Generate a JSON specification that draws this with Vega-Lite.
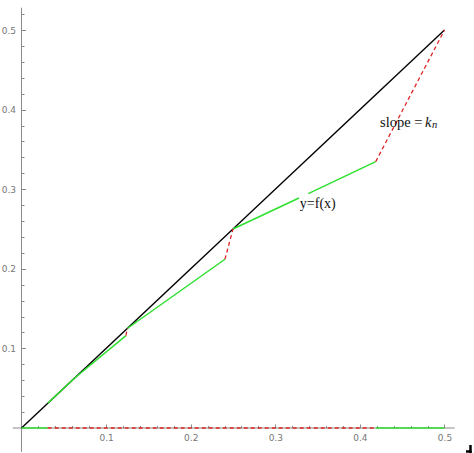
{
  "$schema": "https://vega.github.io/schema/vega-lite/v6.json",
  "width": 474,
  "height": 453,
  "autosize": {"type": "none"},
  "padding": 0,
  "background": "white",
  "config": {"view": {"stroke": null}},
  "resolve": {"axis": {"x": "independent", "y": "independent"}},
  "datasets": {
    "axes": [
      {"x": -0.0104, "y": 0, "x2": 0.512, "y2": 0},
      {"x": 0, "y": -0.03, "x2": 0, "y2": 0.528}
    ],
    "diagonal": [{"x": 0, "y": 0, "x2": 0.5, "y2": 0.5}],
    "green": [
      {"x": 0.031, "y": 0.031, "x2": 0.0625, "y2": 0.0625},
      {"x": 0.0625, "y": 0.0625, "x2": 0.1235, "y2": 0.116},
      {"x": 0.125, "y": 0.125, "x2": 0.2405, "y2": 0.212},
      {"x": 0.25, "y": 0.25, "x2": 0.328, "y2": 0.289},
      {"x": 0.339, "y": 0.2945, "x2": 0.4187, "y2": 0.3346},
      {"x": 0, "y": 0, "x2": 0.031, "y2": 0},
      {"x": 0.4187, "y": 0, "x2": 0.5, "y2": 0}
    ],
    "red": [
      {"x": 0.1235, "y": 0.116, "x2": 0.125, "y2": 0.125},
      {"x": 0.2405, "y": 0.212, "x2": 0.25, "y2": 0.25},
      {"x": 0.4187, "y": 0.3346, "x2": 0.5, "y2": 0.5},
      {"x": 0.031, "y": 0, "x2": 0.4187, "y2": 0}
    ],
    "corner": [
      {"x": 0.5307, "y": -0.0214, "x2": 0.5307, "y2": -0.0314},
      {"x": 0.5254, "y": -0.0295, "x2": 0.532, "y2": -0.0295}
    ],
    "plain": [
      {"text": "y=f(x)", "x": 0.329, "y": 0.276, "size": 14},
      {"text": "slope =", "x": 0.4238, "y": 0.3785, "size": 14.5}
    ],
    "italic": [
      {"text": "k", "x": 0.477, "y": 0.3785, "size": 14.5},
      {"text": "n", "x": 0.4852, "y": 0.3765, "size": 10.5}
    ]
  },
  "layer": [
    {
      "data": {"name": "axes"},
      "mark": {"type": "rule", "color": "#8a8a8a", "strokeWidth": 1},
      "encoding": {
        "x": {
          "field": "x",
          "type": "quantitative",
          "scale": {"domain": [-0.02541, 0.53487], "nice": false, "zero": false},
          "axis": {
            "orient": "bottom",
            "offset": -25,
            "title": null,
            "domain": false,
            "grid": false,
            "values": [0.1, 0.2, 0.3, 0.4, 0.5],
            "format": ".1f",
            "labelFont": "DejaVu Sans",
            "labelFontSize": 9,
            "labelColor": "#777777",
            "labelPadding": 9,
            "labelFlush": false,
            "labelOverlap": false,
            "tickColor": "#8a8a8a",
            "tickWidth": 1,
            "tickSize": -4
          }
        },
        "x2": {"field": "x2"},
        "y": {
          "field": "y",
          "type": "quantitative",
          "scale": {"domain": [-0.03141, 0.53769], "nice": false, "zero": false},
          "axis": {
            "orient": "left",
            "offset": -21.5,
            "title": null,
            "domain": false,
            "grid": false,
            "values": [0.1, 0.2, 0.3, 0.4, 0.5],
            "format": ".1f",
            "labelFont": "DejaVu Sans",
            "labelFontSize": 9,
            "labelColor": "#777777",
            "labelPadding": 10,
            "labelFlush": false,
            "labelOverlap": false,
            "tickColor": "#8a8a8a",
            "tickWidth": 1,
            "tickSize": -4
          }
        },
        "y2": {"field": "y2"}
      }
    },
    {
      "data": {"name": "diagonal"},
      "mark": {"type": "rule", "color": "black", "strokeWidth": 1.4},
      "encoding": {
        "x": {
          "field": "x",
          "type": "quantitative",
          "axis": {
            "orient": "top",
            "offset": -428,
            "title": null,
            "domain": false,
            "grid": false,
            "labels": false,
            "values": [0.02, 0.04, 0.06, 0.08, 0.12, 0.14, 0.16, 0.18, 0.22, 0.24, 0.26, 0.28, 0.32, 0.34, 0.36, 0.38, 0.42, 0.44, 0.46, 0.48],
            "tickColor": "#8a8a8a",
            "tickWidth": 1,
            "tickSize": 2.5
          }
        },
        "x2": {"field": "x2"},
        "y": {
          "field": "y",
          "type": "quantitative",
          "axis": {
            "orient": "right",
            "offset": -452.5,
            "title": null,
            "domain": false,
            "grid": false,
            "labels": false,
            "values": [0.02, 0.04, 0.06, 0.08, 0.12, 0.14, 0.16, 0.18, 0.22, 0.24, 0.26, 0.28, 0.32, 0.34, 0.36, 0.38, 0.42, 0.44, 0.46, 0.48, 0.52],
            "tickColor": "#8a8a8a",
            "tickWidth": 1,
            "tickSize": 2.5
          }
        },
        "y2": {"field": "y2"}
      }
    },
    {
      "data": {"name": "green"},
      "mark": {"type": "rule", "color": "#2ee02e", "strokeWidth": 1.5},
      "encoding": {
        "x": {"field": "x", "type": "quantitative", "axis": null},
        "x2": {"field": "x2"},
        "y": {"field": "y", "type": "quantitative", "axis": null},
        "y2": {"field": "y2"}
      }
    },
    {
      "data": {"name": "red"},
      "mark": {"type": "rule", "color": "#e02424", "strokeWidth": 1.3, "strokeDash": [4, 3]},
      "encoding": {
        "x": {"field": "x", "type": "quantitative", "axis": null},
        "x2": {"field": "x2"},
        "y": {"field": "y", "type": "quantitative", "axis": null},
        "y2": {"field": "y2"}
      }
    },
    {
      "data": {"name": "corner"},
      "mark": {"type": "rule", "color": "black", "strokeWidth": 2.5, "clip": false},
      "encoding": {
        "x": {"field": "x", "type": "quantitative", "axis": null},
        "x2": {"field": "x2"},
        "y": {"field": "y", "type": "quantitative", "axis": null},
        "y2": {"field": "y2"}
      }
    },
    {
      "data": {"name": "plain"},
      "mark": {"type": "text", "font": "Liberation Serif", "align": "left", "baseline": "alphabetic", "color": "#111111"},
      "encoding": {
        "x": {"field": "x", "type": "quantitative", "axis": null},
        "y": {"field": "y", "type": "quantitative", "axis": null},
        "text": {"field": "text"},
        "size": {"field": "size", "type": "quantitative", "scale": null}
      }
    },
    {
      "data": {"name": "italic"},
      "mark": {"type": "text", "font": "Liberation Serif", "fontStyle": "italic", "align": "left", "baseline": "alphabetic", "color": "#111111"},
      "encoding": {
        "x": {"field": "x", "type": "quantitative", "axis": null},
        "y": {"field": "y", "type": "quantitative", "axis": null},
        "text": {"field": "text"},
        "size": {"field": "size", "type": "quantitative", "scale": null}
      }
    }
  ]
}
